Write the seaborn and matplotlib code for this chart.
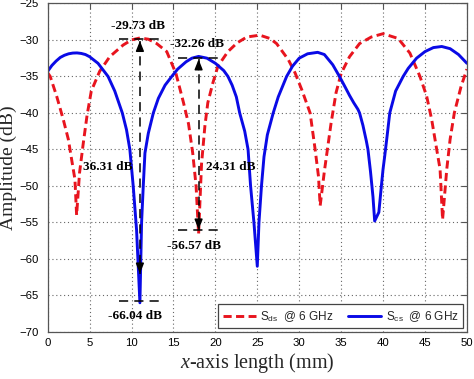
import pandas as pd
import matplotlib
matplotlib.use("Agg")
import matplotlib.pyplot as plt
import seaborn as sns

# S_cs @ 6 GHz (solid blue)
cs_x = [0.0, 0.5, 1.0, 1.5, 2.0, 2.5, 3.0, 3.5, 4.0, 4.5, 5.0, 6.0, 7.2, 8.0, 8.9,
        9.4, 9.8, 10.2, 10.6, 11.0, 11.2, 11.4, 11.6, 12.0, 12.6, 13.2, 14.0, 14.8,
        15.5, 16.5, 17.2, 18.0, 19.0, 20.0, 21.0, 21.5, 22.0, 22.5, 22.9, 23.5,
        23.9, 24.2, 24.6, 25.0, 25.2, 25.5, 25.8, 26.2, 26.9, 27.5, 28.5, 29.2,
        30.0, 31.0, 32.2, 33.0, 34.0, 34.8, 35.5, 36.0, 36.5, 37.0, 37.2, 37.6,
        38.0, 38.2, 38.5, 38.8, 39.0, 39.5, 39.8, 40.0, 40.2, 40.5, 40.8, 41.5,
        42.4, 43.0, 44.0, 45.0, 46.0, 47.0, 48.0, 49.0, 50.0]
cs_db = [-34.3, -33.5, -32.9, -32.4, -32.1, -31.9, -31.8, -31.78, -31.85, -32.0,
         -32.3, -33.2, -35.0, -37.0, -40.0, -42.3, -45.0, -50.0, -56.0, -66.0,
         -55.0, -50.0, -45.5, -42.8, -40.0, -38.0, -36.2, -35.0, -34.0, -33.0,
         -32.5, -32.26, -32.5, -33.2, -34.2, -35.0, -36.2, -37.8, -40.0, -42.5,
         -45.0, -50.0, -55.0, -61.0, -55.0, -50.0, -46.0, -43.0, -40.0, -37.8,
         -35.0, -33.6, -32.5, -31.9, -31.7, -32.0, -33.4, -35.0, -36.5, -37.6,
         -38.6, -39.5, -40.0, -41.7, -43.8, -45.0, -48.0, -51.5, -54.8, -53.6,
         -50.0, -47.7, -45.9, -43.0, -40.0, -37.0, -35.0, -33.9, -32.5, -31.6,
         -31.05, -30.9, -31.2, -32.0, -33.2]

# S_ds @ 6 GHz (dashed red)
ds_x = [0.0, 0.3, 1.07, 1.86, 2.46, 2.86, 3.25, 3.45, 3.8, 4.25, 4.7, 5.2, 6.2,
        7.4, 9.0, 10.0, 11.0, 12.0, 13.0, 14.2, 15.3, 16.2, 16.8, 17.3, 17.7,
        18.0, 18.35, 18.75, 19.1, 19.7, 20.3, 21.5, 22.6, 23.75, 25.3, 26.5,
        27.3, 28.7, 29.5, 30.3, 31.3, 31.9, 32.3, 32.5, 33.0, 33.8, 34.4, 35.0,
        36.0, 37.2, 38.6, 40.0, 41.8, 43.2, 44.4, 45.2, 45.8, 46.4, 46.8, 47.1,
        47.6, 48.0, 48.5, 49.3, 50.0]
ds_db = [-34.5, -35.0, -37.7, -40.9, -43.6, -46.4, -49.1, -54.0, -48.2, -44.1,
         -40.3, -37.0, -34.3, -32.3, -30.7, -30.0, -29.73, -29.9, -30.5, -31.6,
         -34.6, -38.6, -41.5, -45.5, -50.0, -56.57, -47.0, -41.8, -38.6, -35.9,
         -33.6, -31.6, -30.4, -29.6, -29.35, -29.8, -30.5, -32.7, -34.5, -36.8,
         -40.0, -45.0, -48.7, -52.7, -48.0, -41.4, -37.2, -34.6, -32.3, -30.5,
         -29.6, -29.15, -29.8, -31.8, -35.0, -37.7, -40.9, -45.0, -47.7, -54.6,
         -47.7, -43.6, -40.0, -36.4, -34.0]

# peak / null markers: x position, top level, bottom level
arrow_x = [11.0, 18.0]
arrow_top = [-29.73, -32.26]
arrow_bot = [-66.04, -56.57]
diff_labels = ["36.31 dB", "24.31 dB"]

sns.set_theme(style="whitegrid")
plt.rcParams['font.family'] = ['Liberation Sans', 'DejaVu Sans']
plt.rcParams['mathtext.fontset'] = 'custom'
plt.rcParams['mathtext.rm'] = 'Liberation Sans'
plt.rcParams['mathtext.it'] = 'Liberation Serif:italic'

fig = plt.figure(figsize=(4.74, 3.79), dpi=100)
ax = fig.add_axes([0.1006, 0.124, 0.8844, 0.867])

df_ds = pd.DataFrame({'x': ds_x, 'db': ds_db})
df_cs = pd.DataFrame({'x': cs_x, 'db': cs_db})

sns.lineplot(data=df_ds, x='x', y='db', ax=ax, color='#e8141e', linewidth=2.1,
             linestyle=(0, (2.8, 1.5)), sort=False, label=r'S$_{\mathrm{ds}}$  @ 6 GHz')
sns.lineplot(data=df_cs, x='x', y='db', ax=ax, color='#0a0ae6', linewidth=2.1,
             sort=False, label=r'S$_{\mathrm{cs}}$  @ 6 GHz')

ax.set_xlim(0, 50)
ax.set_ylim(-70, -25)
ax.set_xticks(range(0, 51, 5))
ax.set_yticks(range(-70, -24, 5))
ax.grid(True, linestyle=(0, (1, 2.5)), color='#666666', linewidth=0.8)
for s in ax.spines.values():
    s.set_color('#555555')
    s.set_linewidth(0.9)
ax.tick_params(direction='in', length=4, width=0.8, color='#555555',
               top=True, right=True, labelsize=8.2, labelcolor='black')
ax.tick_params(axis='y', pad=6.5)
ax.tick_params(axis='x', pad=4.5)

ax.set_xlabel(r'$x$-axis length (mm)', family='Liberation Serif', fontsize=14.5, labelpad=2)
ax.set_ylabel('Amplitude (dB)', family='Liberation Serif', fontsize=14)
ax.yaxis.set_label_coords(-0.074, 0.5)

# annotations
ann = dict(family='Liberation Serif', fontweight='bold', fontsize=9.5,
           ha='center', va='center', color='black')
dash = dict(color='black', linewidth=1.1, linestyle=(0, (6, 4)))
head = dict(arrowstyle='-|>,head_length=0.5,head_width=0.2',
            color='black', lw=1.1, shrinkA=0, shrinkB=0)
for xa, top, bot, lab, side in zip(arrow_x, arrow_top, arrow_bot, diff_labels, [-1, 1]):
    ax.plot([xa - 2.5, xa + 2.5], [top - 0.2, top - 0.2], **dash)
    bot_line = bot + 0.3 if bot < -60 else bot + 0.6
    ax.plot([xa - 2.5, xa + 2.5], [bot_line, bot_line], **dash)
    tip_bot = -62.0 if bot < -60 else bot + 0.6
    ax.plot([xa, xa], [top - 0.4, tip_bot], **dash)
    ax.annotate('', xy=(xa, top - 0.4), xytext=(xa, top - 1.8), arrowprops=head)
    ax.annotate('', xy=(xa, tip_bot), xytext=(xa, tip_bot + 1.4), arrowprops=head)
    ax.text(xa - 0.2, top + 1.7, f'{top:.2f} dB', **ann)
    ax.text(xa - 0.6, bot - 1.7, f'{bot:.2f} dB', **ann)
    ax.text(xa + side * 3.8, -47.4, lab, **ann)

leg = ax.legend(loc='lower right', ncol=2, frameon=True, fancybox=False,
                edgecolor='#444444', fontsize=8.5, handlelength=2.8,
                columnspacing=1.2, handletextpad=0.4, borderpad=0.4,
                borderaxespad=0.3, framealpha=1)
leg.get_frame().set_linewidth(0.9)

fig.savefig('out.png', dpi=100)
